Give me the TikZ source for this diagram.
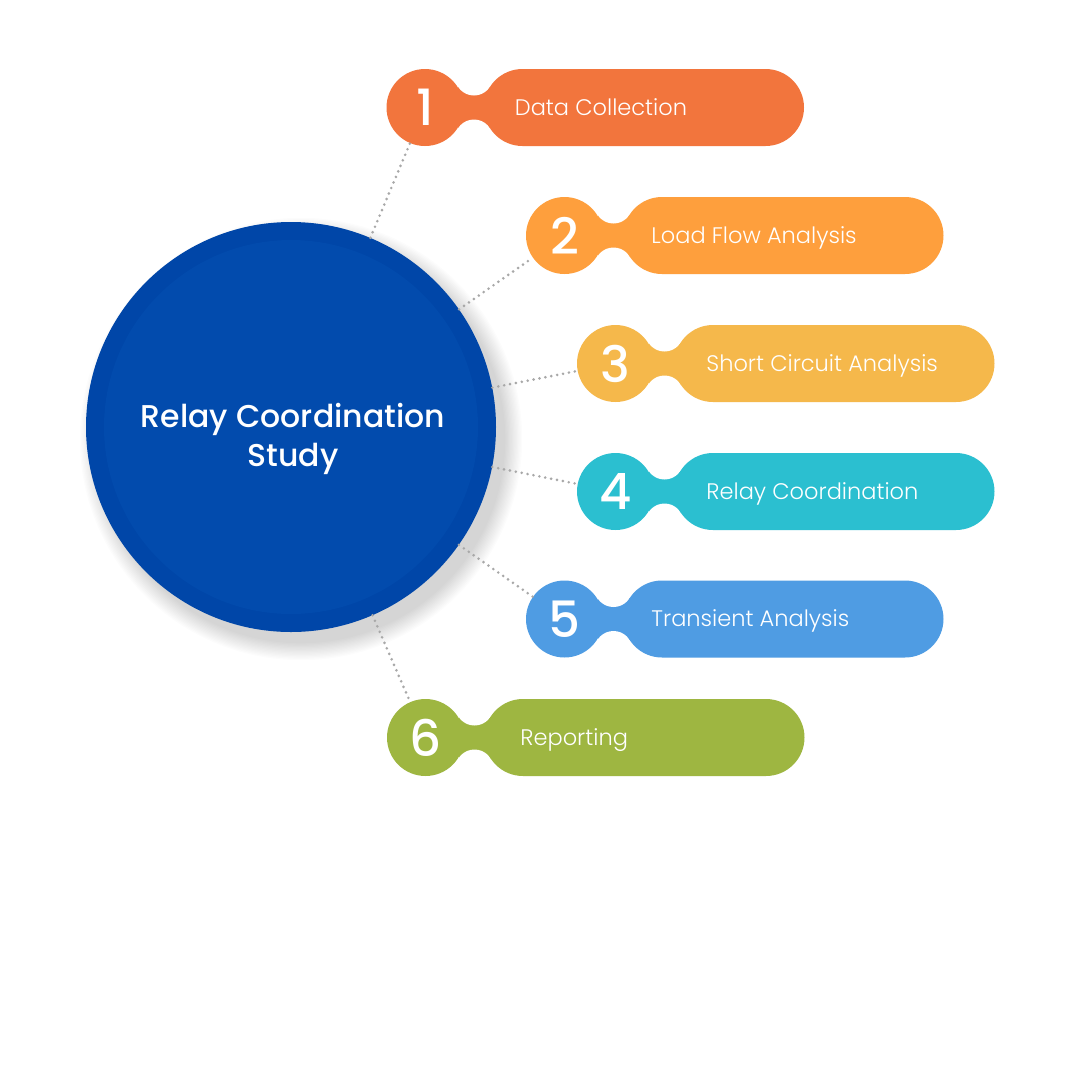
\documentclass[tikz,border=0pt]{standalone}
\usepackage{fontspec}
\setmainfont{Poppins}[UprightFont={* Light},BoldFont={* Medium}]
\usetikzlibrary{positioning}
\definecolor{hubring}{HTML}{0046A8}
\definecolor{hubcore}{HTML}{024BAD}
\definecolor{cone}{HTML}{F2753D}
\definecolor{ctwo}{HTML}{FE9F3D}
\definecolor{cthree}{HTML}{F5B84B}
\definecolor{cfour}{HTML}{2BBFD0}
\definecolor{cfive}{HTML}{4F9CE3}
\definecolor{csix}{HTML}{9EB641}
\definecolor{dotgray}{HTML}{A8A8A8}
% neck, notches and bar of one step: x, y, colour
\newcommand{\pill}[3]{%
  \fill[#3] (#1+33,#2-21) rectangle (#1+65,#2+21);
  \fill[white] (#1+49,#2-31) circle (19pt);
  \fill[white] (#1+49,#2+31) circle (19pt);
  \fill[#3, rounded corners=38.5pt] (#1+59,#2-38.5) rectangle (#1+379,#2+38.5);
}
\tikzset{
  hub/.style={circle, minimum size=410pt, inner sep=0pt, fill=hubring,
    path picture={\fill[hubcore] (path picture bounding box.center) circle (187pt);}},
  hubtext/.style={text=white, align=center, font=\fontsize{31.5}{39}\selectfont\bfseries},
  numdot/.style={circle, minimum size=77pt, inner sep=0pt, text=white,
    font=\fontsize{50}{50}\selectfont\bfseries},
  steptext/.style={text=white, inner sep=0pt, text height=15pt, text depth=0pt,
    font=\fontsize{22.5}{26}\selectfont},
  dotline/.style={dotgray, line width=2.9pt, line cap=round, dash pattern=on 0pt off 6pt}
}
\begin{document}
\begin{tikzpicture}[x=1pt, y=-1pt]
  \fill[white] (0,0) rectangle (1080,1080);
  \useasboundingbox (0,0) rectangle (1080,1080);
  % soft shadow
  \foreach \r in {1,...,14}
    \fill[black, opacity=0.011] (301,439) circle ({203+\r*1.3pt});
  \node[hub] (hub) at (291,427) {};
  \node[hubtext] (title) at (293,439) {Relay Coordination\\Study};
  \pill{425}{107.5}{cone}
  \pill{564.5}{235.5}{ctwo}
  \pill{615.5}{363.5}{cthree}
  \pill{615.5}{491.5}{cfour}
  \pill{564.5}{619}{cfive}
  \pill{425.5}{737.5}{csix}
  \node[numdot, fill=cone] (n1) at (425,107.5) {1};
  \node[numdot, fill=ctwo] (n2) at (564.5,235.5) {2};
  \node[numdot, fill=cthree] (n3) at (615.5,363.5) {3};
  \node[numdot, fill=cfour] (n4) at (615.5,491.5) {4};
  \node[numdot, fill=cfive] (n5) at (564.5,619) {5};
  \node[numdot, fill=csix] (n6) at (425.5,737.5) {6};
  \node[steptext, right=51pt of n1] (t1) {Data Collection};
  \node[steptext, right=48pt of n2] (t2) {Load Flow Analysis};
  \node[steptext, right=52pt of n3] (t3) {Short Circuit Analysis};
  \node[steptext, right=52pt of n4] (t4) {Relay Coordination};
  \node[steptext, right=48pt of n5] (t5) {Transient Analysis};
  \node[steptext, right=56pt of n6] (t6) {Reporting};
  \draw[dotline] (hub) -- (n1);
  \draw[dotline] (hub) -- (n2);
  \draw[dotline] (hub) -- (n3);
  \draw[dotline] (hub) -- (n4);
  \draw[dotline] (hub) -- (n5);
  \draw[dotline] (hub) -- (n6);
\end{tikzpicture}
\end{document}
